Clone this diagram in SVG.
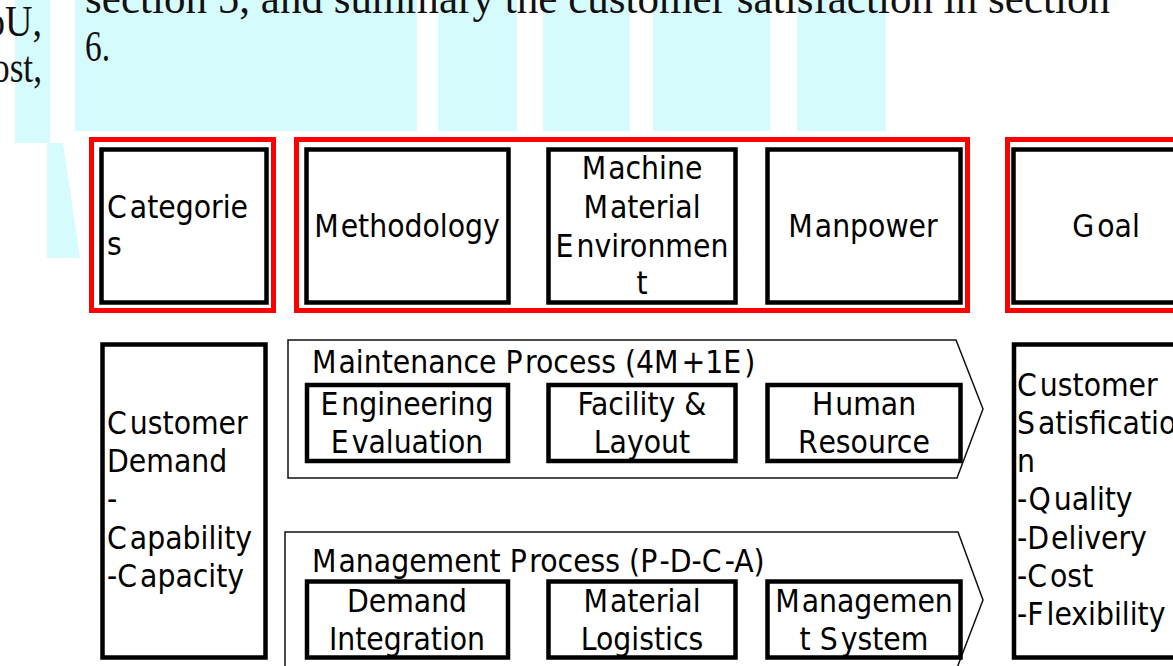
<svg xmlns="http://www.w3.org/2000/svg" width="1173" height="666" viewBox="0 0 1173 666">
<style>
.bg{fill:#d6fbfd}
.red{fill:#fff;stroke:#f00;stroke-width:5}
.box{fill:#fff;stroke:#000;stroke-width:4.5}
.proc{fill:#fff;stroke:#111;stroke-width:1.5}
.lbl{font-family:"DejaVu Sans Condensed","DejaVu Sans","Liberation Sans",sans-serif;font-stretch:condensed;font-size:31.5px;fill:#000}
.c{text-anchor:middle}
.serif{font-family:"Liberation Serif","DejaVu Serif",serif;font-size:44px;fill:#111}
</style>
<rect width="1173" height="666" fill="#fff"/>
<g id="watermark">
<rect class="bg" x="15" y="0" width="35" height="143"/>
<polygon class="bg" points="47,143 63,143 80,258 47,258"/>
<rect class="bg" x="75" y="0" width="342" height="131"/>
<rect class="bg" x="438" y="0" width="79" height="131"/>
<rect class="bg" x="543" y="0" width="87" height="131"/>
<rect class="bg" x="653" y="0" width="117" height="131"/>
<rect class="bg" x="797" y="0" width="89" height="131"/>
</g>
<g id="page-text">
<text class="serif" x="85" y="13" textLength="1025" lengthAdjust="spacingAndGlyphs">section 5, and summary the customer satisfaction in section</text>
<text class="serif" x="85" y="61" textLength="25" lengthAdjust="spacingAndGlyphs">6.</text>
<text class="serif" x="-14" y="36" textLength="56" lengthAdjust="spacingAndGlyphs">oU,</text>
<text class="serif" x="-8" y="82" textLength="50" lengthAdjust="spacingAndGlyphs">ost,</text>
</g>
<g id="categories">
<rect class="red" x="91.5" y="139.5" width="182" height="171"/>
<rect class="box" x="101.5" y="149.5" width="165" height="153"/>
<text class="lbl" x="107" y="218">C<tspan dx="3">ategorie</tspan></text>
<text class="lbl" x="107" y="255">s</text>
</g>
<g id="four-m">
<rect class="red" x="296.5" y="139.5" width="671" height="171"/>
<g id="methodology">
<rect class="box" x="306.5" y="149.5" width="202" height="153"/>
<text class="lbl c" x="407" y="237">M<tspan dx="2">ethodology</tspan></text>
</g>
<g id="machine">
<rect class="box" x="548.5" y="149.5" width="187" height="153"/>
<text class="lbl c" x="642" y="179">M<tspan dx="2">achine</tspan></text>
<text class="lbl c" x="642" y="218">M<tspan dx="2">aterial</tspan></text>
<text class="lbl c" x="642" y="256.5">E<tspan dx="3">nvironmen</tspan></text>
<text class="lbl c" x="642" y="293.5">t</text>
</g>
<g id="manpower">
<rect class="box" x="767.5" y="149.5" width="193" height="153"/>
<text class="lbl c" x="863" y="237">M<tspan dx="2">anpower</tspan></text>
</g>
</g>
<g id="goal">
<rect class="red" x="1007.5" y="139.5" width="200" height="171"/>
<rect class="box" x="1013.5" y="149.5" width="185" height="153"/>
<text class="lbl c" x="1106" y="237">G<tspan dx="3">oal</tspan></text>
</g>
<g id="customer-demand">
<rect class="box" x="102.5" y="344.5" width="163" height="313"/>
<text class="lbl" x="107" y="434">C<tspan dx="3">ustomer</tspan></text>
<text class="lbl" x="107" y="472">Demand</text>
<text class="lbl" x="107" y="510">-</text>
<text class="lbl" x="107" y="549">C<tspan dx="3">apability</tspan></text>
<text class="lbl" x="107" y="587">-C<tspan dx="3">apacity</tspan></text>
</g>
<g id="maintenance-process">
<polygon class="proc" points="288,340 956,340 983,409 957,478 288,478"/>
<text class="lbl" x="312" y="373">M<tspan dx="2">aintenance P</tspan><tspan dx="3">rocess (4M</tspan><tspan dx="3">+1E</tspan><tspan dx="3">)</tspan></text>
<g id="engineering-evaluation">
<rect class="box" x="307" y="385" width="201" height="76"/>
<text class="lbl c" x="407" y="415">E<tspan dx="3">ngineering</tspan></text>
<text class="lbl c" x="407" y="453">E<tspan dx="3">valuation</tspan></text>
</g>
<g id="facility-layout">
<rect class="box" x="548.5" y="385" width="187" height="76"/>
<text class="lbl c" x="642" y="415">Facility &amp;</text>
<text class="lbl c" x="642" y="453">Layout</text>
</g>
<g id="human-resource">
<rect class="box" x="767.5" y="385" width="193" height="76"/>
<text class="lbl c" x="864" y="415">H<tspan dx="2">uman</tspan></text>
<text class="lbl c" x="864" y="453">R<tspan dx="2">esource</tspan></text>
</g>
</g>
<g id="management-process">
<polygon class="proc" points="285,532 958,532 983,600 957,668 285,668"/>
<text class="lbl" x="312" y="572">M<tspan dx="2">anagement P</tspan><tspan dx="3">rocess (P</tspan><tspan dx="3">-D-C</tspan><tspan dx="3">-A)</tspan></text>
<g id="demand-integration">
<rect class="box" x="307" y="581.5" width="201" height="76"/>
<text class="lbl c" x="407" y="612">Demand</text>
<text class="lbl c" x="407" y="650">Integration</text>
</g>
<g id="material-logistics">
<rect class="box" x="548.5" y="581.5" width="187" height="76"/>
<text class="lbl c" x="642" y="612">M<tspan dx="2">aterial</tspan></text>
<text class="lbl c" x="642" y="650">Logistics</text>
</g>
<g id="management-system">
<rect class="box" x="767.5" y="581.5" width="193" height="76"/>
<text class="lbl c" x="864" y="612">M<tspan dx="2">anagemen</tspan></text>
<text class="lbl c" x="864" y="650">t S<tspan dx="3">ystem</tspan></text>
</g>
</g>
<g id="customer-satisfaction">
<rect class="box" x="1014" y="344.5" width="200" height="313"/>
<text class="lbl" x="1017" y="396">C<tspan dx="3">ustomer</tspan></text>
<text class="lbl" x="1017" y="434">S<tspan dx="3">atisficatio</tspan></text>
<text class="lbl" x="1017" y="472">n</text>
<text class="lbl" x="1017" y="510">-Q<tspan dx="3">uality</tspan></text>
<text class="lbl" x="1017" y="548.5">-D<tspan dx="2">elivery</tspan></text>
<text class="lbl" x="1017" y="587">-C<tspan dx="3">ost</tspan></text>
<text class="lbl" x="1017" y="625">-F<tspan dx="3">lexibility</tspan></text>
</g>
<g id="connectors"></g>
</svg>
